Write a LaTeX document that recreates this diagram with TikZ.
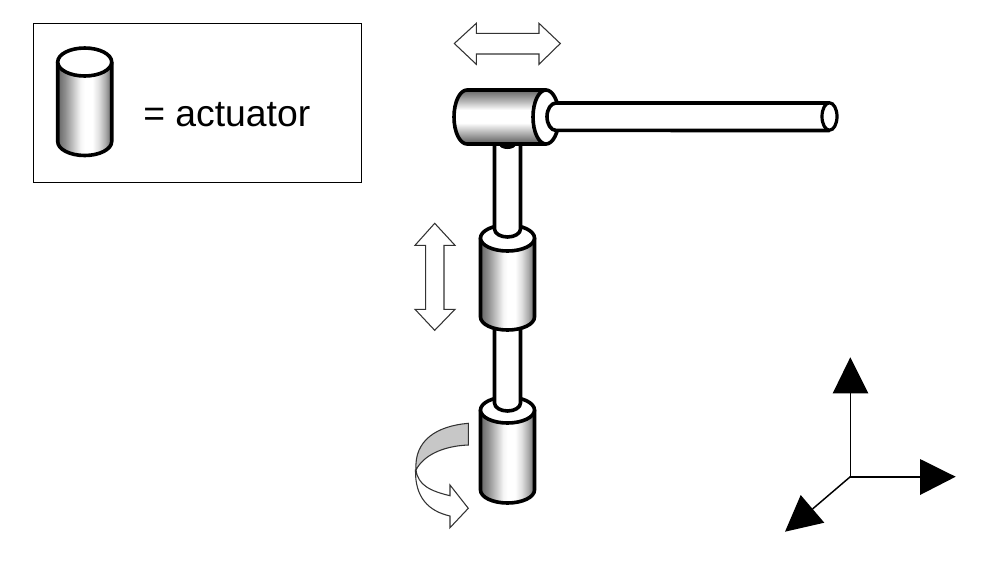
\documentclass[tikz,border=0pt]{standalone}
\usepackage{fontspec}
\setmainfont{Liberation Sans}
\pgfdeclarehorizontalshading{cylh}{100bp}{color(0bp)=(black!60); color(25bp)=(black!60); color(32bp)=(black!44); color(39bp)=(black!24); color(46bp)=(black!4); color(50bp)=(white); color(57bp)=(white); color(63bp)=(black!12); color(69bp)=(black!32); color(75bp)=(black!60); color(100bp)=(black!60)}
\pgfdeclareverticalshading{cylv}{100bp}{color(0bp)=(black!65); color(25bp)=(black!65); color(33bp)=(black!38); color(44.5bp)=(white); color(56.5bp)=(white); color(64.5bp)=(black!28); color(75bp)=(black!60); color(100bp)=(black!60)}
\tikzset{
  heavy/.style={draw=black,line width=2.7pt,line join=round},
  bodyv/.style={heavy,shade,shading=cylh},
  bodyh/.style={heavy,shade,shading=cylv},
  rodfill/.style={heavy,fill=white},
  motion/.style={draw=black!80,line width=0.8pt,fill=white,line join=miter},
  axisline/.style={draw=black,line width=1.1pt},
  axishead/.style={fill=black,draw=none},
  legendbox/.style={draw=black,line width=0.8pt,fill=white}
}
% upright actuator: centre x, y of top ellipse, y of bottom ellipse, y radius
\newcommand{\actcyl}[4]{%
  \draw[bodyv] (#1-27,#2) -- (#1-27,#3) arc[start angle=180,end angle=0,x radius=27,y radius=#4] -- (#1+27,#2) -- cycle;
  \draw[rodfill] (#1,#2) ellipse[x radius=27,y radius=#4];
}
% vertical rod: centre x, top y, y where the curved end begins
\newcommand{\vrod}[3]{%
  \draw[rodfill] (#1-13,#2) -- (#1-13,#3) arc[start angle=180,end angle=0,x radius=13,y radius=8] -- (#1+13,#2);
}
\begin{document}
\begin{tikzpicture}[x=0.75pt,y=-0.75pt]
\useasboundingbox (0,0) rectangle (982,562);
\fill[white] (0,0) rectangle (982,562);

% legend
\node[legendbox,minimum width=327.5*0.75pt,minimum height=159.5*0.75pt,anchor=north west,inner sep=0pt] (legend) at (33.3,22.7) {};
\actcyl{84.7}{62}{141.5}{14}
\node[anchor=base west,inner sep=0pt,font=\fontsize{28}{32}\selectfont] (legendtext) at (143,126.7) {= actuator};

% lower actuator and rod
\actcyl{507.5}{410}{490}{13}
\vrod{507.5}{325}{403}
% middle actuator and rod
\actcyl{507.5}{238}{317}{13}
\vrod{507.5}{140}{229}

% joint under the horizontal actuator
\fill[black] (507.5,145) ellipse[x radius=8,y radius=4];

% horizontal actuator
\draw[bodyh] (546,90) -- (467,90) arc[start angle=270,end angle=90,x radius=13,y radius=27] -- (546,144) -- cycle;
\draw[rodfill] (546,117) ellipse[x radius=13,y radius=27];
% horizontal rod
\draw[rodfill] (829.5,103) -- (556,103) arc[start angle=270,end angle=90,x radius=9,y radius=13.7] -- (829.5,130.5);
\draw[draw=black,fill=white,line width=2.4pt] (829.5,116.5) ellipse[x radius=7.5,y radius=13.7];

% horizontal motion arrow
\draw[motion] (454.3,43.5) -- (476.3,23.3) -- (476.3,33.3) -- (539,33.3) -- (539,23.3) -- (560.3,43.5) -- (539,64.3) -- (539,54) -- (476.3,54) -- (476.3,64.3) -- cycle;
% vertical motion arrow
\draw[motion] (434.7,223.3) -- (455,245.3) -- (444,245.3) -- (444,309.3) -- (455,309.3) -- (434.7,330.3) -- (415,309.3) -- (425.7,309.3) -- (425.7,245.3) -- (415,245.3) -- cycle;

% rotation arrow
\draw[motion] (416,470) .. controls (418,485) and (430,491) .. (450,495.7) -- (450,485) -- (468.3,508.3) -- (450,527.7) -- (450,516) .. controls (428,511) and (415,497) .. (415.5,470) -- cycle;
\draw[motion,fill=black!22] (468.3,423.3) .. controls (437,426) and (414,440) .. (416,470) .. controls (423,456) and (442,446) .. (468.3,445) -- cycle;

% axes
\coordinate (origin) at (850.3,476.7);
\coordinate (upbase) at (850.3,393.3);
\coordinate (rightbase) at (920,476.7);
\coordinate (diagbase) at (812.5,509);
\draw[axisline] (origin) -- (upbase);
\draw[axisline,line width=1.6pt] (origin) -- (rightbase);
\draw[axisline] (origin) -- (diagbase);
\fill[axishead] (850.3,357.3) -- (868.3,393.3) -- (832.7,393.3) -- cycle;
\fill[axishead] (955.7,476.7) -- (920,459) -- (920,495) -- cycle;
\fill[axishead] (785,531.7) -- (800.7,495) -- (824.3,522.7) -- cycle;
\end{tikzpicture}
\end{document}
